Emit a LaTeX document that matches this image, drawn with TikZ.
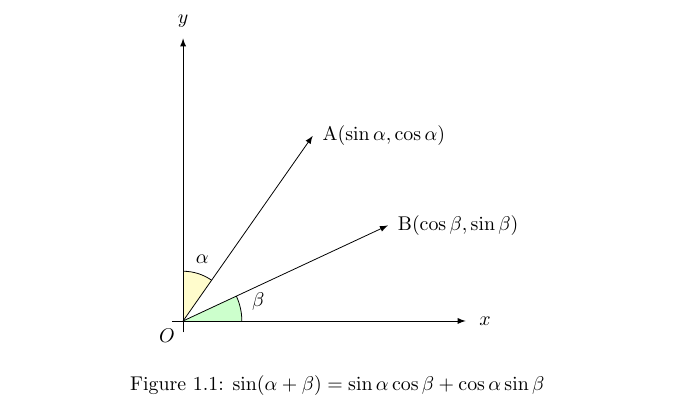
\documentclass[tikz,border=0pt]{standalone}
\usepackage{amsmath}
\usepackage{amssymb}
\usetikzlibrary{positioning}

\begin{document}
\begin{tikzpicture}[Axis/.style = {-latex, thin}, Vec/.style = {-latex, thin}, Label/.style = {inner sep = 2pt}]
        \useasboundingbox (-3.24,-1.61) rectangle (8.90,5.68);
        \coordinate (O) at (0,0);
        \coordinate (xs) at (-0.2,0);
        \coordinate (xe) at (5,0);
        \coordinate (ys) at (0,-0.2);
        \coordinate (ye) at (0,5);
        \coordinate (A) at (55:4);
        \coordinate (B) at (25:4);
        % angle wedges
        \fill [yellow!20] (O) -- (90:0.88) arc (90:55:0.88) -- cycle;
        \draw [thin] (90:0.88) arc (90:55:0.88);
        \fill [green!20] (O) -- (1.04,0) arc (0:25:1.04) -- cycle;
        \draw [thin] (1.04,0) arc (0:25:1.04);
        \draw [Axis] (xs) -- (xe);
        \draw [Axis] (ys) -- (ye);
        \draw [Vec] (O) -- (A);
        \draw [Vec] (O) -- (B);
        \node [right = 0.12cm of xe] (xl) {$x$};
        \node [above = 0.08cm of ye] (yl) {$y$};
        \node [below left = 0.02cm and 0.02cm of O] (Ol) {$O$};
        \node [right = 0.1cm of A, Label] (Al) {A$(\sin\alpha,\cos\alpha)$};
        \node [right = 0.1cm of B, Label] (Bl) {B$(\cos\beta,\sin\beta)$};
        \node at (0.34,1.1) (al) {$\alpha$};
        \node at (1.33,0.34) (bl) {$\beta$};
        \node at (2.73,-1.15) (cap) {Figure 1.1: $\sin(\alpha+\beta)=\sin\alpha\cos\beta+\cos\alpha\sin\beta$};
    \end{tikzpicture}
\end{document}
